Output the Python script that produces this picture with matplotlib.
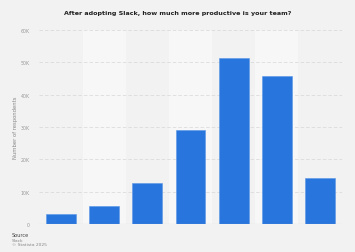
import matplotlib
matplotlib.use("Agg")
import matplotlib.pyplot as plt
from matplotlib.ticker import FuncFormatter

# data (number of respondents)
categories = ["0%", "1-10%", "11-20%", "21-30%", "31-40%", "41-50%", "50%+"]
respondents = [3100, 5600, 12700, 29100, 51300, 45800, 14300]
y_ticks = [0, 10000, 20000, 30000, 40000, 50000, 60000]

bg = "#f2f2f2"
band = "#f7f7f7"
bar_color = "#2876dd"

fig = plt.figure(figsize=(3.55, 2.53), dpi=100, facecolor=bg)
ax = fig.add_axes([0.111, 0.1095, 0.851, 0.7692])
ax.set_facecolor(bg)

x = list(range(len(categories)))

# alternating lighter column bands
for i in x:
    if i % 2 == 1:
        ax.axvspan(i - 0.5, i + 0.5, color=band, zorder=0, lw=0)

ax.yaxis.grid(True, color="#d6d6d6", linestyle=(0, (5, 3)), linewidth=0.5, zorder=1)
ax.set_axisbelow(True)

ax.bar(x, respondents, width=0.69, color=bar_color, zorder=3,
       edgecolor="#5a95e6", linewidth=0.4)

ax.axhline(0, color="#bdbdbd", linewidth=0.8, zorder=4)

ax.set_xlim(-0.5, len(categories) - 0.5)
ax.set_ylim(0, 60000)
ax.set_yticks(y_ticks)
ax.yaxis.set_major_formatter(FuncFormatter(lambda v, p: "0" if v == 0 else f"{int(v / 1000)}K"))
ax.tick_params(axis="y", length=0, labelsize=3.4, labelcolor="#999999", pad=7)
ax.tick_params(axis="x", length=0, labelbottom=False)
ax.set_xticks(x)
for s in ax.spines.values():
    s.set_visible(False)

ax.set_ylabel("Number of respondents", fontsize=3.8, color="#888888", labelpad=2)

fig.text(0.5, 0.948, "After adopting Slack, how much more productive is your team?",
         ha="center", va="center", fontsize=4.6, fontweight="bold", color="#222222")

fig.text(0.034, 0.068, "Source", fontsize=3.6, color="#444444", va="center")
fig.text(0.034, 0.049, "Slack", fontsize=3.2, color="#888888", va="center")
fig.text(0.034, 0.031, "© Statista 2025", fontsize=3.2, color="#888888", va="center")

fig.savefig("out.png", dpi=100, facecolor=bg)
